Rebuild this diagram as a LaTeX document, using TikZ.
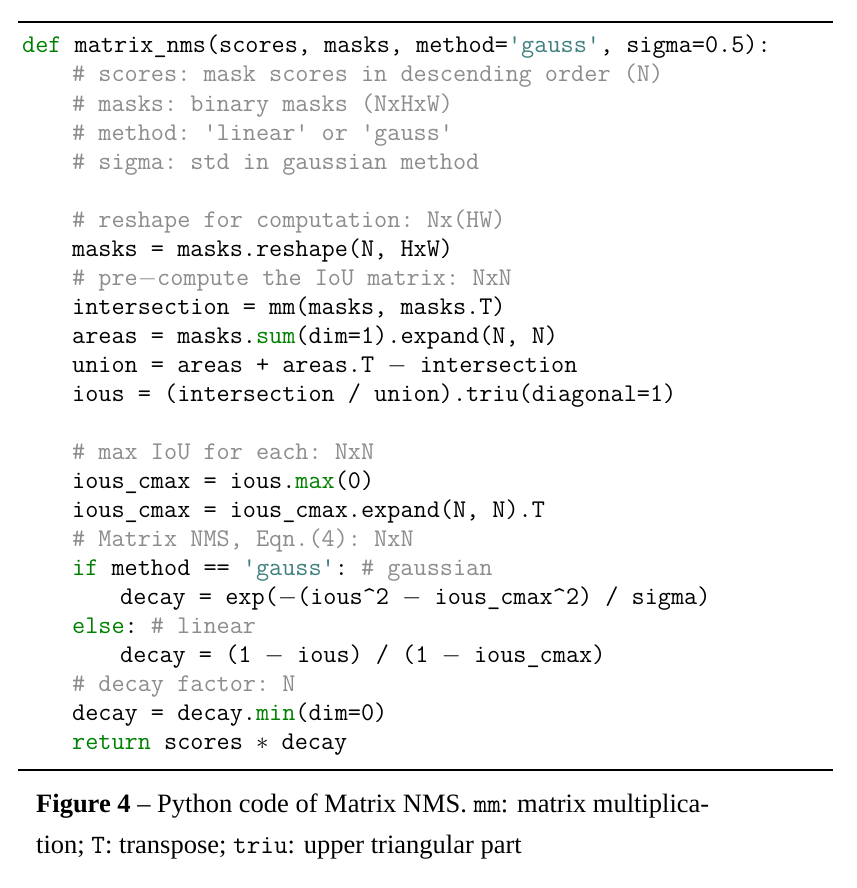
\documentclass[tikz,border=0pt]{standalone}
\usepackage{fontspec}
\setmainfont{Liberation Serif}
\setmonofont{Latin Modern Mono}
\definecolor{kw}{rgb}{0,0.5,0}
\definecolor{st}{rgb}{0.25,0.5,0.5}
\definecolor{cm}{gray}{0.55}
\def\m{$-$}
\begin{document}
\begin{tikzpicture}[x=1pt,y=-1pt,
  code/.style={anchor=base west,inner sep=0pt,font=\fontsize{25.5}{29}\selectfont\ttfamily},
  captext/.style={anchor=base west,inner sep=0pt,font=\fontsize{26.5}{32}\selectfont}]
\useasboundingbox (0,0) rectangle (856,888);
\coordinate (r1a) at (18,22); \coordinate (r1b) at (833,22);
\coordinate (r2a) at (18,770); \coordinate (r2b) at (833,770);
\draw[line width=1.1pt] (r1a) -- (r1b);
\draw[line width=1.1pt] (r2a) -- (r2b);
\node[code] (l1) at (22,53) {\textcolor{kw}{def} matrix\_nms(scores, masks, method=\textcolor{st}{'gauss'}, sigma=0.5):};
\node[code,text=cm] (l2) at (72,82) {\# scores: mask scores in descending order (N)};
\node[code,text=cm] (l3) at (72,111) {\# masks: binary masks (NxHxW)};
\node[code,text=cm] (l4) at (72,140) {\# method: 'linear' or 'gauss'};
\node[code,text=cm] (l5) at (72,169) {\# sigma: std in gaussian method};
\node[code,text=cm] (l7) at (72,227) {\# reshape for computation: Nx(HW)};
\node[code] (l8) at (72,256) {masks = masks.reshape(N, HxW)};
\node[code,text=cm] (l9) at (72,285) {\# pre\m compute the IoU matrix: NxN};
\node[code] (l10) at (72,314) {intersection = mm(masks, masks.T)};
\node[code] (l11) at (72,343) {areas = masks.\textcolor{kw}{sum}(dim=1).expand(N, N)};
\node[code] (l12) at (72,372) {union = areas + areas.T \m{} intersection};
\node[code] (l13) at (72,401) {ious = (intersection / union).triu(diagonal=1)};
\node[code,text=cm] (l15) at (72,459) {\# max IoU for each: NxN};
\node[code] (l16) at (72,488) {ious\_cmax = ious.\textcolor{kw}{max}(0)};
\node[code] (l17) at (72,517) {ious\_cmax = ious\_cmax.expand(N, N).T};
\node[code,text=cm] (l18) at (72,546) {\# Matrix NMS, Eqn.(4): NxN};
\node[code] (l19) at (72,575) {\textcolor{kw}{if} method == \textcolor{st}{'gauss'}: \textcolor{cm}{\# gaussian}};
\node[code] (l20) at (120,604) {decay = exp(\m(ious\^{}2 \m{} ious\_cmax\^{}2) / sigma)};
\node[code] (l21) at (72,633) {\textcolor{kw}{else}: \textcolor{cm}{\# linear}};
\node[code] (l22) at (120,662) {decay = (1 \m{} ious) / (1 \m{} ious\_cmax)};
\node[code,text=cm] (l23) at (72,691) {\# decay factor: N};
\node[code] (l24) at (72,720) {decay = decay.\textcolor{kw}{min}(dim=0)};
\node[code] (l25) at (72,749) {\textcolor{kw}{return} scores $\ast$ decay};
\node[captext] (c1) at (36,812) {\textbf{Figure 4} -- Python code of Matrix NMS. \texttt{mm}: matrix multiplica-};
\node[captext] (c2) at (36,853) {tion; \texttt{T}: transpose; \texttt{triu}: upper triangular part};
\end{tikzpicture}
\end{document}
